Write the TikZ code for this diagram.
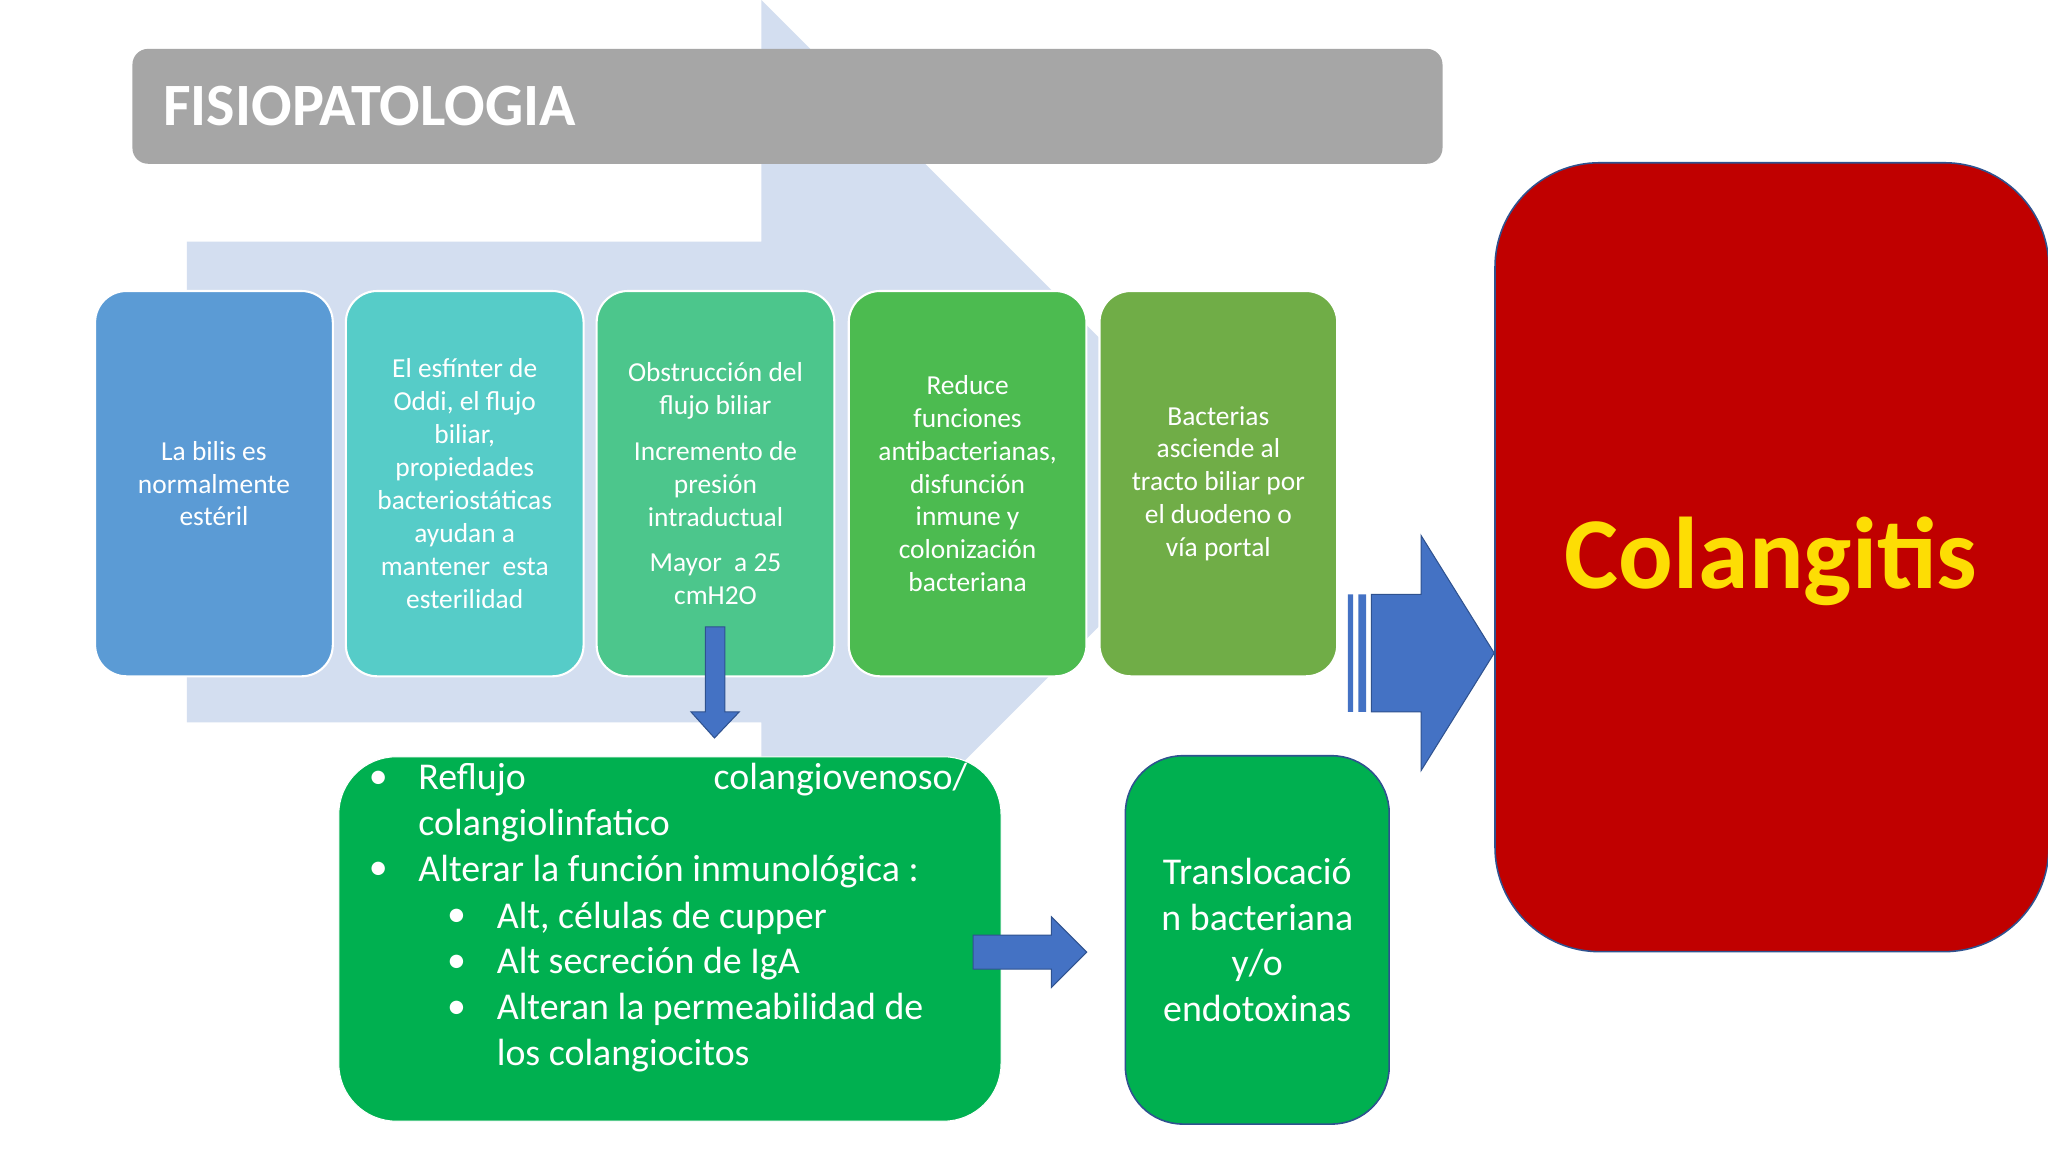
\documentclass[tikz,border=0pt]{standalone}
\usepackage{fontspec}
\setmainfont{Carlito}
\begin{document}
\begin{tikzpicture}[x=0.5pt,y=-0.5pt,
 box/.style={draw=white,line width=0.8pt,rounded corners=12pt,text=white,font=\fontsize{10.5}{12.6}\selectfont,align=center},
 bt/.style={anchor=west,text=white,font=\fontsize{14.5}{17.5}\selectfont,inner sep=0},
 blue/.style={fill=arrowblue,draw=arrowdark,line width=0.4pt}]
\definecolor{bgblue}{HTML}{D3DEF0}
\definecolor{arrowblue}{HTML}{4472C4}
\definecolor{arrowdark}{HTML}{2F528F}
\definecolor{c1}{HTML}{5B9BD5}\definecolor{c2}{HTML}{56CCC8}\definecolor{c3}{HTML}{4CC68C}
\definecolor{c4}{HTML}{4CBB50}\definecolor{c5}{HTML}{70AD47}
\definecolor{gg}{HTML}{00B050}\definecolor{rr}{HTML}{C00000}
\useasboundingbox (0,0) rectangle (1568,882);
\fill[white] (0,0) rectangle (1568,882);
% background arrow
\fill[bgblue] (143,185) -- (583,185) -- (583,0) -- (952,369) -- (583,738) -- (583,553) -- (143,553) -- cycle;
% title
\node[fill=gray!70!white,rounded corners=6pt,minimum width=501.5pt,minimum height=44pt,anchor=north west,inner sep=0] (title) at (101,37) {};
\node[anchor=west,text=white,font=\fontsize{23}{26}\bfseries\selectfont] (titlet) at (118,81) {FISIOPATOLOGIA};
% top boxes
\foreach \i/\x/\c in {1/72/c1,2/264/c2,3/456/c3,4/649/c4,5/841/c5}
 \node[box,fill=\c,minimum width=91pt,minimum height=147.5pt,anchor=north west,inner sep=0] (b\i) at (\x,222) {};
\node[box,draw=none,fill=none] (t1) at (b1) {La bilis es\\normalmente\\estéril};
\node[box,draw=none,fill=none] (t2) at (b2) {El esfínter de\\Oddi, el flujo\\biliar,\\propiedades\\bacteriostáticas\\ayudan a\\mantener\ \ esta\\esterilidad};
\node[box,draw=none,fill=none] (t3) at ([yshift=0]b3) {Obstrucción del\\flujo biliar\\[5pt]Incremento de\\presión\\intraductual\\[5pt]Mayor\ \ a 25\\cmH2O};
\node[box,draw=none,fill=none] (t4) at (b4) {Reduce\\funciones\\antibacterianas,\\disfunción\\inmune y\\colonización\\bacteriana};
\node[box,draw=none,fill=none] (t5) at (b5) {Bacterias\\asciende al\\tracto biliar por\\el duodeno o\\vía portal};
% red box
\node[fill=rr,draw=arrowdark,line width=0.6pt,rounded corners=40pt,minimum width=212pt,minimum height=302pt,anchor=north west,inner sep=0] (red) at (1144,124) {};
\node[text=yellow!80!orange,font=\fontsize{39}{44}\bfseries\selectfont] (colt) at (1356,430) {Colangitis};
% bottom boxes
\node[fill=gg,draw=white,rounded corners=22pt,minimum width=253.5pt,minimum height=139.5pt,anchor=north west,inner sep=0] (g1) at (259,579) {};
\node[fill=gg,draw=arrowdark,line width=0.6pt,rounded corners=22pt,minimum width=101pt,minimum height=141pt,anchor=north west,inner sep=0] (g2) at (861,578) {};
\node[text=white,align=center,font=\fontsize{14.5}{17.5}\selectfont] (g2t) at (g2) {Translocació\\n bacteriana\\y/o\\endotoxinas};
% bottom text
\node[bt] (l0b) at (282,597) {•}; \node[bt] (l0) at (320,597) {Reflujo};
\node[bt,anchor=east] (l0r) at (741,597) {colangiovenoso/};
\node[bt] (l1) at (320,632) {colangiolinfatico};
\node[bt] (l2b) at (282,667) {•}; \node[bt] (l2) at (320,667) {Alterar la función inmunológica :};
\node[bt] (l3b) at (342,703) {•}; \node[bt] (l3) at (380,703) {Alt, células de cupper};
\node[bt] (l4b) at (342,738) {•}; \node[bt] (l4) at (380,738) {Alt secreción de IgA};
\node[bt] (l5b) at (342,773) {•}; \node[bt,text width=180.5pt,align=justify] (l5) at (380,773) {Alteran la permeabilidad de};
\node[bt] (l6) at (380,808) {los colangiocitos};
% arrows
\draw[blue] (540,480) -- (555,480) -- (555,545) -- (566,545) -- (547,565) -- (529,545) -- (540,545) -- cycle;
\coordinate (s1) at (745,716);
\draw[blue] (s1) -- (805,716) -- (805,702) -- (832,729) -- (805,756) -- (805,742) -- (745,742) -- cycle;
\fill[arrowblue] (1032,455) rectangle (1036,545) (1040,455) rectangle (1046,545);
\draw[blue] (1050,455) -- (1088,455) -- (1088,410) -- (1144,500) -- (1088,590) -- (1088,545) -- (1050,545) -- cycle;
\end{tikzpicture}
\end{document}
